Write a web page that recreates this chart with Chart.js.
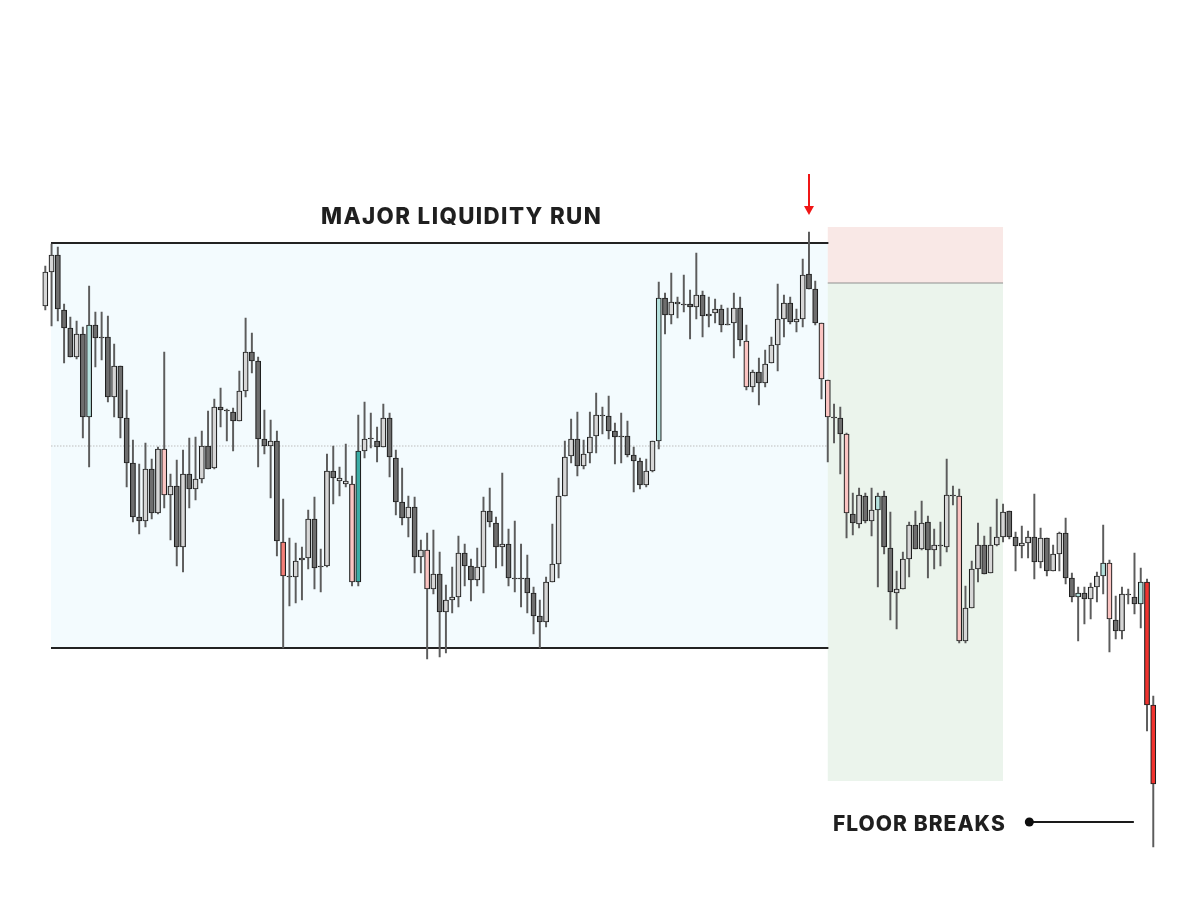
<!DOCTYPE html>
<html>
<head>
<meta charset="utf-8">
<title>Major liquidity run</title>
<script src="https://cdn.jsdelivr.net/npm/chart.js@4"></script>
<style>
  html, body { margin: 0; padding: 0; background: #fff; }
  #wrap { position: relative; width: 1200px; height: 901px; overflow: hidden; }
  .note { position: absolute; font-family: Inter, "Noto Sans", sans-serif; font-weight: 800; color: #1f1f1f; white-space: nowrap; line-height: 1; }
  #note-top { left: 321px; top: 205px; font-size: 22.3px; letter-spacing: 1.4px; }
  #note-floor { left: 833px; top: 812.5px; font-size: 21px; letter-spacing: 1.02px; }
</style>
</head>
<body>
<div id="wrap">
  <canvas id="chart" width="1200" height="901"></canvas>
  <div class="note" id="note-top">MAJOR LIQUIDITY RUN</div>
  <div class="note" id="note-floor">FLOOR BREAKS</div>
</div>
<script>
const highs = [634,656,653,596,583,579,573,614,588,588,
  584,556,534,510,460,436,457,441,453,548,
  426,440,450,462,463,469,489,501,512,491,
  492,529,582,567,543,490,480,469,401,362,
  357,353,390,403,351,446,454,433,456,424,
  485,498,487,473,496,487,450,432,404,403,
  360,367,370,348,315,333,364,356,341,352,
  403,412,383,427,371,379,356,345,313,300,
  323,376,422,459,481,488,460,488,507,493,
  504,477,487,479,453,442,441,459,618,607,
  627,603,625,610,647,609,603,601,595,592,
  607,603,575,530,542,550,563,616,605,603,
  591,641,668,619,577,520,496,493,467,407,
  412,407,412,407,409,388,329,348,378,389,
  399,384,371,378,441,414,411,314,339,377,
  364,373,401,396,389,368,374,369,406,372,
  362,355,368,382,327,313,313,317,328,375,
  340,304,313,311,347,332,321,204];
const lows = [590,574,579,537,543,541,462,433,533,540,
  498,483,462,413,378,366,373,381,386,392,
  360,334,328,392,400,417,431,431,473,459,
  449,479,503,527,433,446,402,344,252,294,
  297,300,331,311,308,333,396,404,413,314,
  314,442,452,438,453,423,385,375,363,327,
  327,241,306,243,247,287,293,314,299,314,
  307,373,332,334,314,308,293,287,266,252,
  273,318,322,404,437,424,431,437,447,466,
  461,436,437,443,408,411,413,428,451,566,
  576,582,588,561,581,563,573,577,568,575,
  542,554,510,508,495,513,537,529,563,576,
  568,573,611,575,501,438,457,426,362,365,
  372,377,364,313,346,280,271,311,323,351,
  350,322,331,334,348,395,257,257,292,318,
  326,327,354,358,361,329,342,342,321,332,
  324,329,329,316,298,259,276,281,298,306,
  248,261,261,296,286,272,169,53];
const opens = [594,628,645,590,572,543,566,483,575,563,
  563,503,534,482,437,383,379,431,387,451,
  405,414,353,426,411,421,454,432,493,490,
  488,479,509,548,539,461,454,459,358,324,
  323,340,342,381,334,334,429,419,416,416,
  318,449,462,459,453,482,442,398,382,393,
  343,350,311,326,288,300,303,347,334,320,
  333,389,377,353,356,322,322,322,307,284,
  278,318,336,404,444,461,434,447,464,485,
  484,469,464,464,445,439,415,429,459,602,
  585,596,596,596,593,605,584,587,591,576,
  577,592,559,513,528,517,537,555,581,597,
  578,581,626,611,577,520,483,482,466,386,
  376,404,379,390,404,352,307,311,341,375,
  351,378,350,355,353,405,404,259,292,331,
  355,327,355,363,389,363,354,357,363,338,
  362,329,346,367,322,303,307,301,313,324,
  337,280,269,306,303,296,318,195];
const closes = [628,645,591,572,543,566,483,575,562,562,
  503,534,482,437,383,379,431,387,451,405,
  414,353,426,411,421,454,431,493,490,489,
  479,509,548,539,461,454,459,359,324,323,
  339,342,381,332,333,429,422,422,419,318,
  449,461,461,453,482,443,398,382,393,343,
  350,311,326,288,300,303,347,334,320,333,
  389,378,353,356,322,321,321,307,284,278,
  318,336,404,443,461,434,446,463,485,484,
  469,463,463,445,439,415,429,459,602,585,
  598,598,595,593,605,584,586,591,575,575,
  592,560,513,528,517,536,555,581,597,578,
  581,625,611,577,521,483,482,466,387,377,
  405,379,390,404,353,308,311,341,375,351,
  377,350,355,354,405,404,259,292,331,355,
  326,355,363,388,363,354,357,363,338,362,
  329,346,367,322,303,307,301,313,324,337,
  281,269,306,305,296,318,195,116];

// candles that stand out from the grey ones
const palePinkCandles = [19,49,61,112,124,125,128,146,170];
const salmonCandles = [38];
const redCandles = [176,177];
const tealCandles = [50];
const mintCandles = [7,98,133,165,169,175];

const labels = highs.map((_, i) => String(i));

// levels and zones, in the same units as the candles (x in candle index)
const rangeTop = 657, rangeBottom = 252, rangeMiddle = 454;
const rangeStart = 0.91, rangeEnd = 125.1;
const stopTop = 673, entryLevel = 617, targetBottom = 119;
const zoneStart = 125.0, zoneEnd = 153.0;
const arrowCandle = 122, arrowFrom = 726, arrowTo = 685;
const floorLevel = 78, floorStart = 157.2, floorEnd = 173.9;

function bodyColor(i) {
  if (redCandles.includes(i)) return "#f0332f";
  if (salmonCandles.includes(i)) return "#f47f78";
  if (palePinkCandles.includes(i)) return "#fbc4c2";
  if (tealCandles.includes(i)) return "#3bada6";
  if (mintCandles.includes(i)) return "#b5e2de";
  return opens[i] > closes[i] ? "#6e6e6e" : "#d6d6d6";
}

const zonesPlugin = {
  id: "zones",
  beforeDatasetsDraw(chart) {
    const { ctx, scales: { x, y } } = chart;
    const rect = (x0, x1, top, bottom, color) => {
      ctx.fillStyle = color;
      ctx.fillRect(x.getPixelForValue(x0), y.getPixelForValue(top),
        x.getPixelForValue(x1) - x.getPixelForValue(x0), y.getPixelForValue(bottom) - y.getPixelForValue(top));
    };
    const hline = (x0, x1, level, color, width, dash) => {
      ctx.save();
      ctx.strokeStyle = color;
      ctx.lineWidth = width;
      ctx.setLineDash(dash || []);
      ctx.beginPath();
      ctx.moveTo(x.getPixelForValue(x0), y.getPixelForValue(level));
      ctx.lineTo(x.getPixelForValue(x1), y.getPixelForValue(level));
      ctx.stroke();
      ctx.restore();
    };
    rect(rangeStart, rangeEnd, rangeTop, rangeBottom, "#f3fbfe");
    rect(zoneStart, zoneEnd, stopTop, entryLevel, "#f9e8e6");
    rect(zoneStart, zoneEnd, entryLevel, targetBottom, "#ebf4ec");
    hline(zoneStart, zoneEnd, entryLevel, "#8f8f8f", 1);
    hline(rangeStart, rangeEnd, rangeMiddle, "#bdbdbd", 1, [1.5, 1.5]);
    hline(rangeStart, rangeEnd, rangeTop, "#222222", 2);
    hline(rangeStart, rangeEnd, rangeBottom, "#222222", 2);
  },
  afterDatasetsDraw(chart) {
    const { ctx, scales: { x, y } } = chart;
    // red arrow above the sweep candle
    const ax = x.getPixelForValue(arrowCandle);
    const ay0 = y.getPixelForValue(arrowFrom), ay1 = y.getPixelForValue(arrowTo);
    ctx.save();
    ctx.strokeStyle = "#f01616";
    ctx.fillStyle = "#f01616";
    ctx.lineWidth = 2;
    ctx.beginPath();
    ctx.moveTo(ax, ay0);
    ctx.lineTo(ax, ay1 - 6);
    ctx.stroke();
    ctx.beginPath();
    ctx.moveTo(ax - 5, ay1 - 9);
    ctx.lineTo(ax + 5, ay1 - 9);
    ctx.lineTo(ax, ay1);
    ctx.closePath();
    ctx.fill();
    // pointer from the label to the last candle
    const fy = y.getPixelForValue(floorLevel);
    ctx.strokeStyle = "#1a1a1a";
    ctx.fillStyle = "#0d0d0d";
    ctx.lineWidth = 2;
    ctx.beginPath();
    ctx.moveTo(x.getPixelForValue(floorStart), fy);
    ctx.lineTo(x.getPixelForValue(floorEnd), fy);
    ctx.stroke();
    ctx.beginPath();
    ctx.arc(x.getPixelForValue(floorStart), fy, 4.5, 0, Math.PI * 2);
    ctx.fill();
    ctx.restore();
  }
};

new Chart(document.getElementById("chart").getContext("2d"), {
  type: "bar",
  data: {
    labels,
    datasets: [
      {
        label: "body",
        data: labels.map((_, i) => [opens[i], closes[i]]),
        backgroundColor: labels.map((_, i) => bodyColor(i)),
        borderColor: "#1f1f1f",
        borderWidth: 1.2,
        borderSkipped: false,
        barThickness: 5.2,
        grouped: false,
        order: 1
      },
      {
        label: "wick",
        data: labels.map((_, i) => [lows[i], highs[i]]),
        backgroundColor: "#5c5c5c",
        borderWidth: 0,
        barThickness: 1.3,
        grouped: false,
        order: 2
      }
    ]
  },
  options: {
    responsive: false,
    animation: false,
    layout: { padding: { left: 42.17, right: 43.6, top: 0, bottom: 0 } },
    plugins: { legend: { display: false }, tooltip: { enabled: false } },
    scales: {
      x: { display: false, grid: { display: false } },
      y: { display: false, min: -1, max: 900, grid: { display: false } }
    }
  },
  plugins: [zonesPlugin]
});
</script>
</body>
</html>
